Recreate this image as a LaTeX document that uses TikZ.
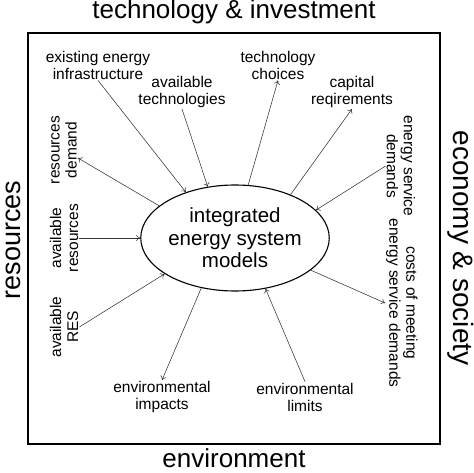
\documentclass[tikz,border=0pt]{standalone}
\usepackage{fontspec}
\setmainfont{Liberation Sans}
\usetikzlibrary{shapes.geometric, arrows.meta}
\begin{document}
\begin{tikzpicture}[x=1pt, y=-1pt,
            lbl/.style={align=center, inner sep=1pt, font=\fontsize{15.5}{17}\selectfont},
            side/.style={inner sep=0pt, font=\fontsize{26}{30}\selectfont},
            link/.style={draw=black!80, line width=0.55pt, -{To[length=4pt, width=6pt]}}]
            \useasboundingbox (0, 0) rectangle (474, 473);
            \draw[line width=1.2pt] (28, 33) rectangle (440, 444);

            \node (tech) at (234, 19) [side, anchor=base] {technology \& investment};
            \node (env) at (234, 467) [side, anchor=base] {environment};
            \node (res) at (20, 240) [side, anchor=base, rotate=90, font=\fontsize{27}{30}\selectfont] {resources};
            \node (eco) at (453, 248) [side, anchor=base, rotate=-90, font=\fontsize{28}{30}\selectfont] {economy \& society};

            \node (ism) at (235, 238) [draw, ellipse, line width=1.1pt, minimum width=150pt, minimum height=106pt, inner sep=0pt, align=center, font=\fontsize{20.5}{22.5}\selectfont] {integrated\\energy system\\models};

            \node (exist) at (98, 65) [lbl] {existing energy\\infrastructure};
            \node (availtech) at (182, 92) [lbl] {available\\technologies};
            \node (techchoice) at (278, 65) [lbl] {technology\\choices};
            \node (capital) at (352, 92) [lbl] {capital\\reqirements};
            \node (resdem) at (64, 150) [lbl, rotate=90] {resources\\demand};
            \node (availres) at (64, 238) [lbl, rotate=90] {available\\resources};
            \node (availRES) at (64, 327) [lbl, rotate=90] {available\\RES};
            \node (esdem) at (401, 166) [lbl, rotate=-90] {energy service\\demands};
            \node (costs) at (402, 303) [lbl, rotate=-90] {costs of meeting\\energy service demands};
            \node (envimp) at (162, 397) [lbl] {environmental\\impacts};
            \node (envlim) at (305, 397) [lbl] {environmental\\limits};

            \draw[link] (exist.south) -- (ism.137);
            \draw[link] (availtech.south) -- (ism.118);
            \draw[link] (ism.76) -- (techchoice.south);
            \draw[link] (ism.38) -- (capital.south);
            \draw[link] (esdem.south) -- (ism.19);
            \draw[link] (ism.-23) -- (costs.south);
            \draw[link] (envlim.north) -- (ism.-59);
            \draw[link] (ism.-124) -- (envimp.north);
            \draw[link] (availRES.south) -- (ism.-153);
            \draw[link] (availres.south) -- (ism.180);
            \draw[link] (ism.157) -- ([yshift=-8pt]resdem.south);

        \end{tikzpicture}
\end{document}
